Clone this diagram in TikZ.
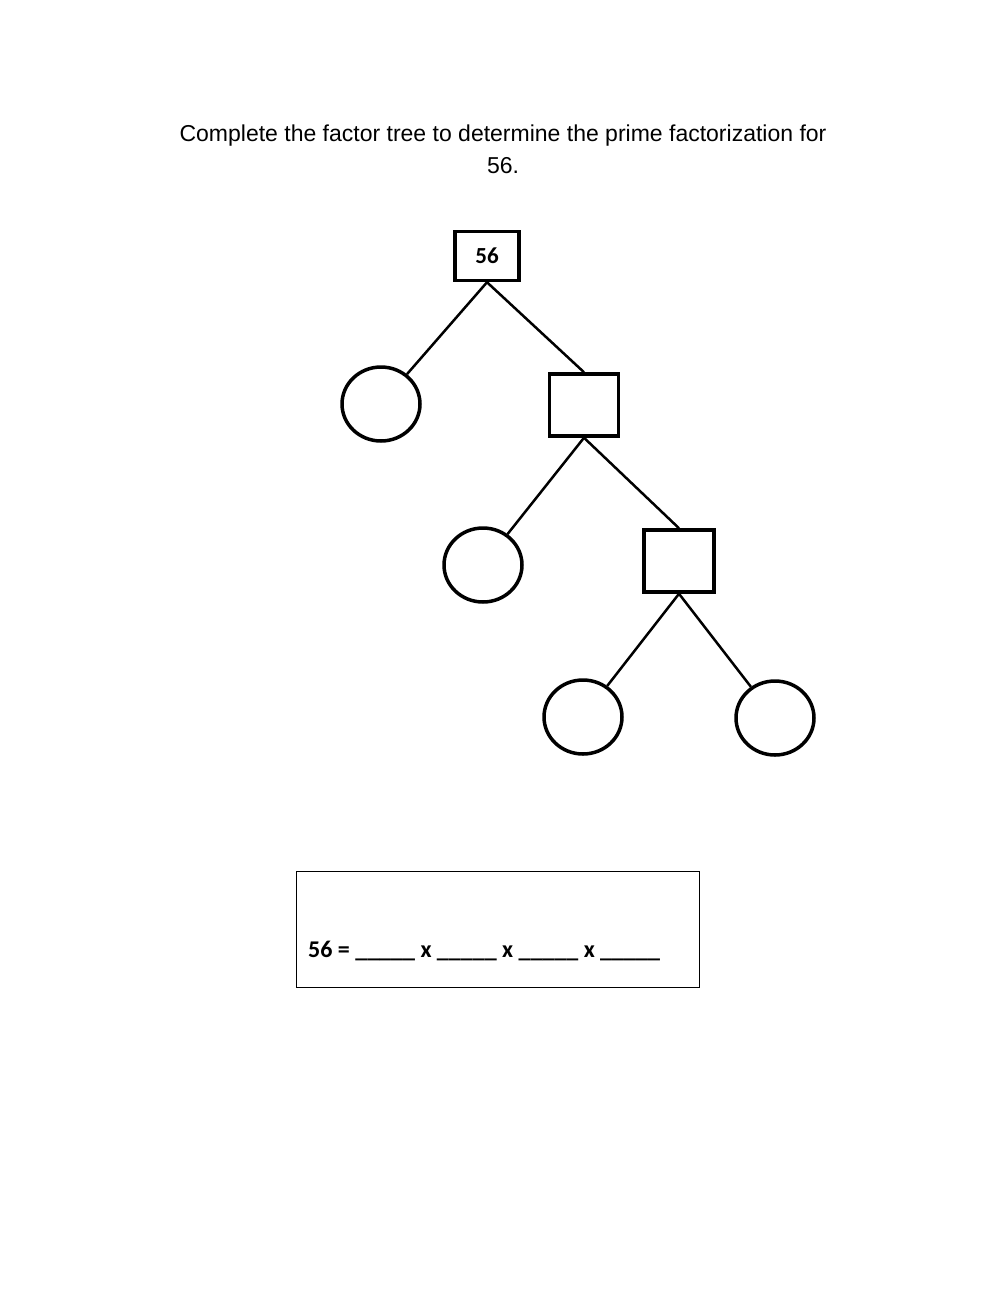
\documentclass[tikz,border=0pt]{standalone}
\usepackage{fontspec}
\setmainfont{Liberation Sans}
\newfontfamily\carlitofont{Carlito}
\usetikzlibrary{shapes.geometric}
\begin{document}
\begin{tikzpicture}[x=1pt,y=-1pt,
  sq/.style={draw,line width=3.5pt,minimum width=#1,inner sep=0},
  ov/.style={draw,ellipse,line width=3.5pt,minimum width=78pt,minimum height=74pt},
  br/.style={line width=2.5pt}]
\useasboundingbox[fill=white] (0,0) rectangle (1000,1291);
\node[align=center,font=\fontsize{23}{32}\selectfont] (title) at (503,149) {Complete the factor tree to determine the prime factorization for\\56.};
\node[sq=64pt,minimum height=49pt,font=\carlitofont\bfseries\fontsize{23}{26}\selectfont] (r) at (487,256) {56};
\node[ov] (c1) at (381,404) {};
\node[sq=69pt,minimum height=62pt] (b2) at (584,405) {};
\node[ov] (c2) at (483,565) {};
\node[sq=70pt,minimum height=62pt] (b3) at (679,561) {};
\node[ov] (c3) at (583,717) {};
\node[ov] (c4) at (775,718) {};
\draw[br] (r.south) -- (c1);
\draw[br] (r.south) -- (b2.north);
\draw[br] (b2.south) -- (c2);
\draw[br] (b2.south) -- (b3.north);
\draw[br] (b3.south) -- (c3);
\draw[br] (b3.south) -- (c4);
\node[draw,line width=1pt,minimum width=403pt,minimum height=116pt] (ans) at (497.5,929) {};
\node[anchor=base west,inner sep=0,font=\carlitofont\bfseries\fontsize{24}{28}\selectfont] (eq) at (308,957) {56 = \_\_\_\_\_ x \_\_\_\_\_ x \_\_\_\_\_ x \_\_\_\_\_};
\end{tikzpicture}
\end{document}
